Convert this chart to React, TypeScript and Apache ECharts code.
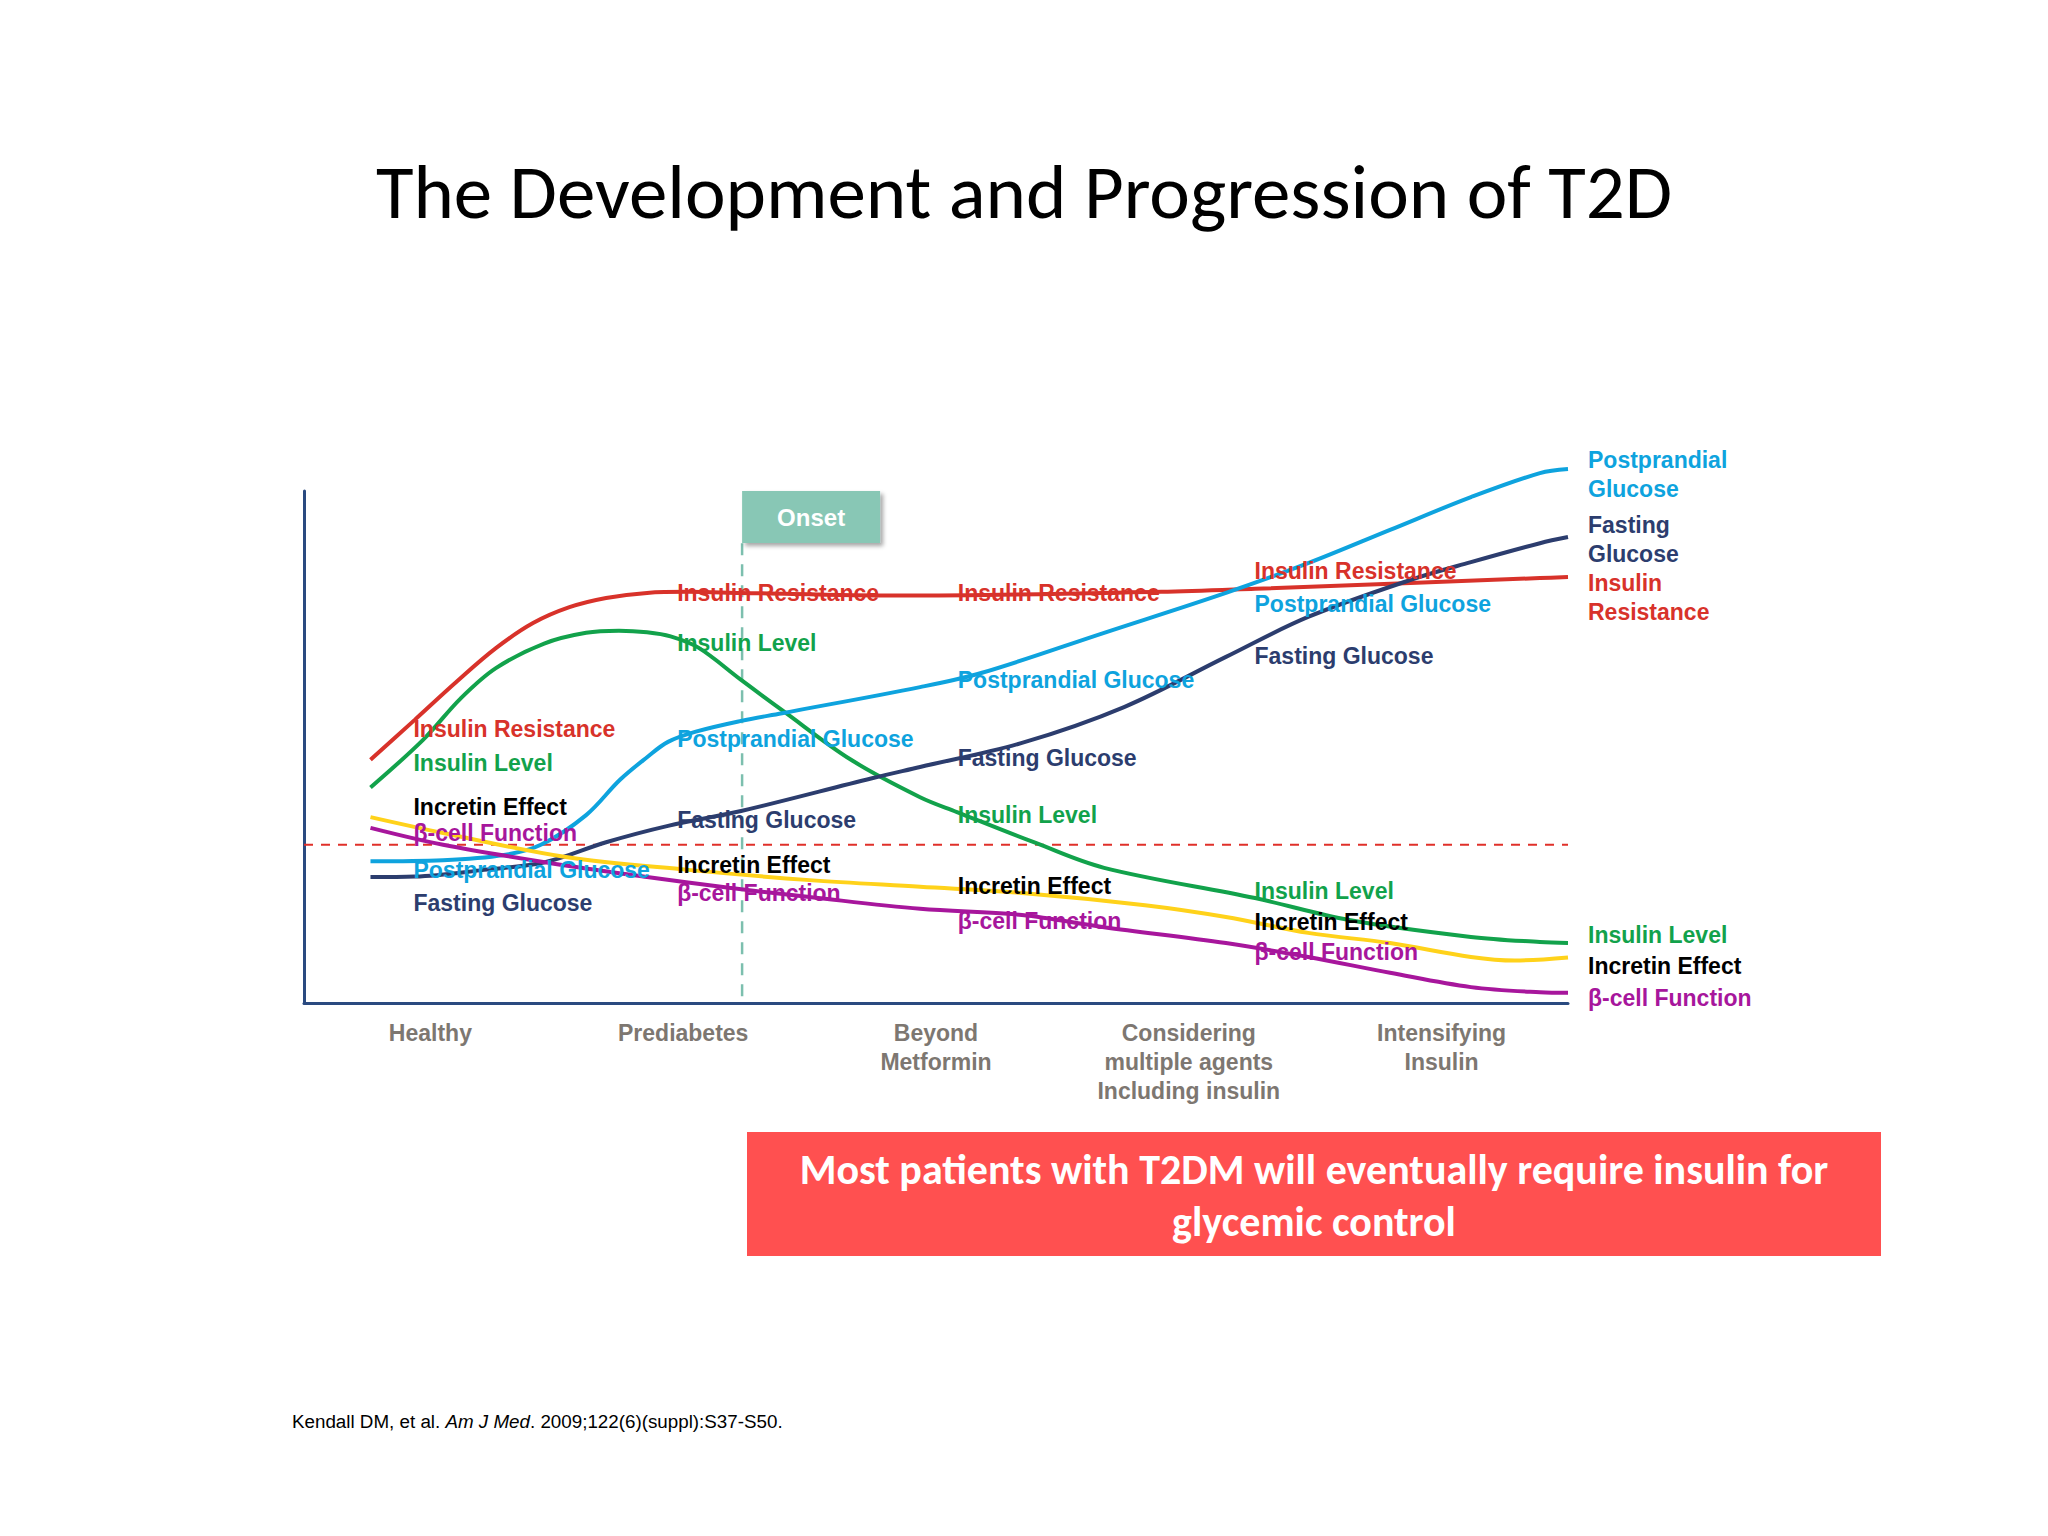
import React, { useEffect, useRef } from "react";
import * as echarts from "echarts";

// ---- data ----
const categories = [
  "Healthy",
  "Prediabetes",
  "Beyond\nMetformin",
  "Considering\nmultiple agents\nIncluding insulin",
  "Intensifying\nInsulin",
];

const insulinResistance = [
  [0.263, 47.5], [0.438, 55.3], [0.6, 62.6], [0.759, 69.3], [0.906, 74.2], [1.05, 77.3],
  [1.195, 79.1], [1.357, 80.1], [1.519, 80.3], [1.729, 80.1], [2.358, 79.6], [3.39, 80.3],
  [3.762, 80.9], [4.889, 83.0], [5.0, 83.2],
];
const insulinLevel = [
  [0.263, 42.1], [0.471, 51.4], [0.62, 59.5], [0.759, 65.4], [0.95, 70.2], [1.116, 72.3],
  [1.246, 72.7], [1.357, 72.4], [1.45, 71.6], [1.56, 69.4], [1.729, 63.1], [1.891, 57.2],
  [2.164, 47.5], [2.437, 40.2], [2.583, 37.3], [2.892, 31.3], [3.165, 26.4], [3.762, 20.5],
  [4.134, 16.2], [4.616, 12.9], [4.889, 11.9], [5.0, 11.7],
];
const postprandialGlucose = [
  [0.263, 27.7], [0.55, 27.9], [0.791, 28.9], [0.937, 30.9], [1.116, 36.7],
  [1.25, 43.6], [1.357, 48.0], [1.44, 51.0], [1.55, 53.0], [1.729, 55.1], [1.891, 56.6],
  [2.437, 61.7], [2.682, 64.5], [3.165, 72.3], [3.647, 80.1], [3.972, 85.9],
  [4.296, 92.4], [4.616, 98.8], [4.889, 103.5], [5.0, 104.3],
];
const fastingGlucose = [
  [0.263, 24.6], [0.439, 24.7], [0.712, 26.0], [0.953, 27.5], [1.195, 31.4],
  [1.44, 34.6], [1.729, 37.5], [2.247, 43.9], [2.437, 46.1], [2.84, 50.8],
  [3.244, 57.8], [3.647, 67.6], [3.972, 75.4], [4.375, 82.6], [4.616, 86.1],
  [4.889, 89.8], [5.0, 91.0],
];
const incretinEffect = [
  [0.263, 36.3], [0.55, 33.2], [1.036, 28.5], [1.519, 26.0], [2.0, 24.0],
  [2.437, 22.7], [2.84, 21.5], [3.327, 19.1], [3.647, 16.8], [3.972, 13.7],
  [4.296, 11.7], [4.616, 9.0], [4.79, 8.3], [5.0, 8.9],
];
const betaCellFunction = [
  [0.263, 34.2], [0.55, 30.9], [0.953, 27.5], [1.357, 24.6], [1.681, 22.5],
  [2.0, 20.7], [2.437, 18.4], [2.84, 17.2], [3.165, 14.8], [3.647, 11.7],
  [3.972, 9.0], [4.296, 5.9], [4.616, 3.1], [4.889, 2.1], [5.0, 2.0],
];

const thresholdLevel = 30.9;
const onsetX = 1.733;
const onsetBoxBottom = 89.8;
const onsetBoxCenter = 94.9;

// in-chart annotations: [text, x, y, series key]
const annotations: [string, number, number, string][] = [
  ["Insulin Resistance", 0.431, 53.5, "ir"],
  ["Insulin Level", 0.431, 46.9, "il"],
  ["Incretin Effect", 0.431, 38.3, "ie"],
  ["β-cell Function", 0.431, 33.2, "bc"],
  ["Postprandial Glucose", 0.431, 26.0, "pg"],
  ["Fasting Glucose", 0.431, 19.6, "fg"],
  ["Insulin Resistance", 1.474, 80.1, "ir"],
  ["Insulin Level", 1.474, 70.4, "il"],
  ["Postprandial Glucose", 1.474, 51.5, "pg"],
  ["Fasting Glucose", 1.474, 35.7, "fg"],
  ["Incretin Effect", 1.474, 27.0, "ie"],
  ["β-cell Function", 1.474, 21.5, "bc"],
  ["Insulin Resistance", 2.584, 80.1, "ir"],
  ["Postprandial Glucose", 2.584, 63.0, "pg"],
  ["Fasting Glucose", 2.584, 47.9, "fg"],
  ["Insulin Level", 2.584, 36.7, "il"],
  ["Incretin Effect", 2.584, 22.9, "ie"],
  ["β-cell Function", 2.584, 16.1, "bc"],
  ["Insulin Resistance", 3.758, 84.4, "ir"],
  ["Postprandial Glucose", 3.758, 78.0, "pg"],
  ["Fasting Glucose", 3.758, 67.8, "fg"],
  ["Insulin Level", 3.758, 21.9, "il"],
  ["Incretin Effect", 3.758, 15.8, "ie"],
  ["β-cell Function", 3.758, 10.0, "bc"],
];

const COLORS: Record<string, string> = {
  ir: "#d8322a",
  il: "#12a24b",
  pg: "#0ea3de",
  fg: "#2c3d6e",
  ie: "#ffd21a",
  bc: "#a7169c",
};
const TEXT_COLORS: Record<string, string> = { ...COLORS, ie: "#000000" };

const FONT = "'Liberation Sans', Arial, Helvetica, sans-serif";
const TITLE_FONT = "Carlito, Calibri, Lato, sans-serif";

function lineSeries(name: string, key: string, data: number[][], endText: string, dy: number) {
  return {
    name,
    type: "line",
    xAxisIndex: 1,
    data,
    smooth: 0.35,
    showSymbol: false,
    symbol: "none",
    clip: false,
    z: 2,
    lineStyle: { width: 4, color: COLORS[key] },
    itemStyle: { color: COLORS[key] },
    endLabel: {
      show: true,
      formatter: endText,
      color: TEXT_COLORS[key],
      fontSize: 23,
      fontWeight: "bold",
      fontFamily: FONT,
      lineHeight: 29,
      distance: 20,
      offset: [0, dy],
    },
  };
}

export default function App() {
  const ref = useRef<HTMLDivElement>(null);
  useEffect(() => {
    if (!ref.current) return;
    const chart = echarts.init(ref.current, null, { renderer: "svg" });
    const option: any = {
      animation: false,
      backgroundColor: "#ffffff",
      grid: { left: 304, right: 480, top: 491, bottom: 533 },
      xAxis: [
        {
          type: "category",
          data: categories,
          boundaryGap: true,
          axisLine: { lineStyle: { color: "#2a4a80", width: 3 } },
          axisTick: { show: false },
          splitLine: { show: false },
          axisLabel: {
            interval: 0,
            color: "#7d7771",
            fontSize: 23,
            fontWeight: "bold",
            fontFamily: FONT,
            lineHeight: 29,
            margin: 15,
          },
        },
        { type: "value", min: 0, max: 5, show: false },
      ],
      yAxis: {
        type: "value",
        min: 0,
        max: 100,
        axisLine: { show: true, lineStyle: { color: "#2a4a80", width: 3 } },
        axisTick: { show: false },
        axisLabel: { show: false },
        splitLine: { show: false },
      },
      graphic: [
        {
          type: "text",
          x: 1024,
          y: 192,
          style: {
            text: "The Development and Progression of T2D",
            fontSize: 77,
            fontFamily: TITLE_FONT,
            fill: "#000",
            align: "center",
            verticalAlign: "middle",
          },
        },
        {
          type: "rect",
          shape: { x: 747, y: 1132, width: 1134, height: 124 },
          style: { fill: "#ff5050" },
        },
        {
          type: "text",
          x: 1314,
          y: 1195,
          style: {
            text: "Most patients with T2DM will eventually require insulin for\nglycemic control",
            fontSize: 42,
            fontWeight: "bold",
            fontFamily: TITLE_FONT,
            fill: "#ffffff",
            lineHeight: 52,
            align: "center",
            verticalAlign: "middle",
          },
        },
        {
          type: "text",
          x: 292,
          y: 1421,
          style: {
            text: "{n|Kendall DM, et al. }{i|Am J Med}{n|. 2009;122(6)(suppl):S37-S50.}",
            verticalAlign: "middle",
            rich: {
              n: { fontSize: 18.8, fontFamily: FONT, fill: "#000" },
              i: { fontSize: 18.8, fontFamily: FONT, fontStyle: "italic", fill: "#000" },
            },
          },
        },
      ],
      series: [
        {
          name: "Threshold",
          type: "line",
          xAxisIndex: 1,
          data: [[0, thresholdLevel], [5, thresholdLevel]],
          showSymbol: false,
          symbol: "none",
          z: 1,
          silent: true,
          lineStyle: { color: "#e0302a", width: 2, type: [9, 8] },
        },
        {
          name: "Onset",
          type: "line",
          xAxisIndex: 1,
          data: [[onsetX, onsetBoxBottom], [onsetX, 0]],
          showSymbol: false,
          symbol: "none",
          z: 1,
          silent: true,
          lineStyle: { color: "#7cbfae", width: 2.5, type: [12, 9] },
          markPoint: {
            symbol: "rect",
            symbolSize: [138, 52],
            symbolOffset: [69, 0],
            silent: true,
            itemStyle: {
              color: "#88c7b5",
              shadowBlur: 4,
              shadowOffsetX: 3,
              shadowOffsetY: 3,
              shadowColor: "rgba(0,0,0,0.35)",
            },
            label: {
              show: true,
              position: "inside",
              formatter: "Onset",
              color: "#ffffff",
              fontSize: 24,
              fontWeight: "bold",
              fontFamily: FONT,
            },
            data: [{ coord: [onsetX, onsetBoxCenter] }],
          },
        },
        lineSeries("Insulin Resistance", "ir", insulinResistance, "Insulin\nResistance", 20),
        lineSeries("Insulin Level", "il", insulinLevel, "Insulin Level", -8),
        lineSeries("Postprandial Glucose", "pg", postprandialGlucose, "Postprandial\nGlucose", 6),
        lineSeries("Fasting Glucose", "fg", fastingGlucose, "Fasting\nGlucose", 2),
        lineSeries("Incretin Effect", "ie", incretinEffect, "Incretin Effect", 9),
        lineSeries("β-cell Function", "bc", betaCellFunction, "β-cell Function", 5),
        {
          name: "Annotations",
          type: "scatter",
          xAxisIndex: 1,
          symbolSize: 1,
          clip: false,
          silent: true,
          z: 5,
          itemStyle: { color: "rgba(0,0,0,0)", opacity: 1 },
          label: {
            show: true,
            position: "right",
            distance: 0,
            opacity: 1,
            formatter: "{b}",
            fontSize: 23,
            fontWeight: "bold",
            fontFamily: FONT,
          },
          data: annotations.map((a) => ({
            name: a[0],
            value: [a[1], a[2]],
            label: { color: TEXT_COLORS[a[3]] },
          })),
        },
      ],
    };
    chart.setOption(option);
    return () => chart.dispose();
  }, []);
  return (
    <div
      ref={ref}
      style={{ position: "fixed", left: 0, top: 0, width: 2048, height: 1536 }}
    />
  );
}
